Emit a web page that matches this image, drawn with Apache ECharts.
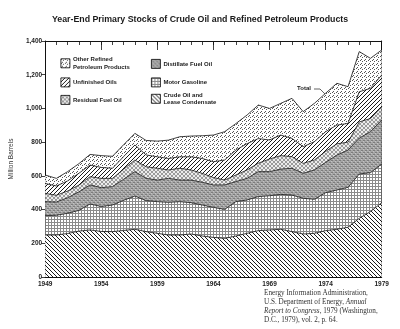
<!DOCTYPE html>
<html>
<head>
<meta charset="utf-8">
<script src="https://cdn.jsdelivr.net/npm/echarts@6/dist/echarts.min.js"></script>
<style>
  html, body { margin: 0; padding: 0; background: #fff; }
  #chart { width: 400px; height: 329px; }
</style>
</head>
<body>
<div id="chart"></div>
<script>
// year-end stocks, million barrels
const years = ['1949', '1950', '1951', '1952', '1953', '1954', '1955', '1956', '1957', '1958',
  '1959', '1960', '1961', '1962', '1963', '1964', '1965', '1966', '1967', '1968',
  '1969', '1970', '1971', '1972', '1973', '1974', '1975', '1976', '1977', '1978', '1979'];
const crudeOil = [249, 249, 258, 272, 279, 270, 269, 276, 283, 269, 259, 249, 249, 255, 243, 235,
  229, 243, 259, 275, 279, 283, 269, 255, 259, 275, 283, 295, 348, 388, 441];
const motorGasoline = [115, 117, 120, 123, 154, 148, 158, 179, 197, 184, 188, 194, 198, 186, 184, 178,
  172, 204, 198, 202, 203, 207, 217, 212, 202, 225, 233, 237, 263, 231, 229];
const distillate = [83, 79, 92, 110, 113, 112, 109, 125, 145, 132, 128, 142, 128, 134, 135, 133,
  145, 119, 128, 148, 143, 150, 159, 148, 174, 180, 207, 221, 213, 243, 261];
const residual = [49, 40, 40, 40, 49, 55, 49, 60, 69, 69, 70, 50, 70, 60, 53, 44,
  29, 39, 50, 50, 75, 80, 69, 59, 59, 65, 67, 47, 96, 78, 79];
const unfinished = [59, 55, 60, 70, 69, 65, 60, 75, 89, 70, 68, 68, 68, 78, 88, 94,
  119, 148, 156, 146, 113, 122, 108, 99, 109, 117, 111, 111, 179, 179, 188];
const otherRefined = [50, 45, 55, 57, 63, 70, 71, 70, 69, 86, 93, 109, 119, 123, 135, 158,
  168, 157, 170, 199, 187, 188, 238, 208, 227, 228, 248, 218, 238, 178, 149];
const yTicks = [0, 200, 400, 600, 800, 1000, 1200, 1400];

const FONT = 'Liberation Sans';

// little canvas tiles used as fill patterns
const makePattern = (size, draw, bg) => {
  const c = document.createElement('canvas');
  c.width = size;
  c.height = size;
  const ctx = c.getContext('2d');
  ctx.fillStyle = bg || '#fff';
  ctx.fillRect(0, 0, size, size);
  draw(ctx, size);
  return { image: c, repeat: 'repeat' };
};
const diag = (dir) => (ctx, s) => {
  ctx.strokeStyle = '#000';
  ctx.lineWidth = 0.9;
  ctx.beginPath();
  [-s, 0, s].forEach((k) => {
    if (dir > 0) { ctx.moveTo(k, s); ctx.lineTo(k + s, 0); } else { ctx.moveTo(k, 0); ctx.lineTo(k + s, s); }
  });
  ctx.stroke();
};
const dots = (pts, color) => (ctx) => {
  ctx.fillStyle = color;
  pts.forEach((p) => ctx.fillRect(p[0], p[1], 1, 1));
};

const patterns = {
  crude: makePattern(4, diag(-1)),
  gasoline: makePattern(3, (ctx) => {
    ctx.fillStyle = '#8a8a8a';
    ctx.fillRect(0, 0, 3, 1);
    ctx.fillRect(0, 0, 1, 3);
  }),
  distillate: makePattern(4, (ctx) => {
    dots([[0, 0], [2, 2], [3, 0], [1, 2]], '#7c7c7c')(ctx);
    dots([[1, 3], [3, 1]], '#c4c4c4')(ctx);
  }, '#a6a6a6'),
  residual: makePattern(4, dots([[0, 0], [1, 1], [2, 2], [3, 3], [3, 0], [2, 1], [1, 2], [0, 3]], '#9a9a9a'), '#ececec'),
  unfinished: makePattern(4, diag(1)),
  other: makePattern(4, dots([[0, 0], [2, 1], [1, 3]], '#555')),
};

const layers = [
  { name: 'Crude Oil and Lease Condensate', label: 'Crude Oil and\nLease Condensate', data: crudeOil, fill: patterns.crude },
  { name: 'Motor Gasoline', label: 'Motor Gasoline', data: motorGasoline, fill: patterns.gasoline },
  { name: 'Distillate Fuel Oil', label: 'Distillate Fuel Oil', data: distillate, fill: patterns.distillate },
  { name: 'Residual Fuel Oil', label: 'Residual Fuel Oil', data: residual, fill: patterns.residual },
  { name: 'Unfinished Oils', label: 'Unfinished Oils', data: unfinished, fill: patterns.unfinished },
  { name: 'Other Refined Petroleum Products', label: 'Other Refined\nPetroleum Products', data: otherRefined, fill: patterns.other },
];

// legend placement: [layer index, left, top]
const legendSpots = [
  [5, 60.5, 56], [4, 60.5, 77.5], [3, 60.5, 95],
  [2, 151, 59], [1, 151, 77.5], [0, 151, 91.5],
];

const series = layers.map((l) => ({
  name: l.name,
  type: 'line',
  stack: 'all',
  data: l.data,
  showSymbol: false,
  symbol: 'none',
  silent: true,
  lineStyle: { color: '#111', width: 0.8 },
  areaStyle: { color: l.fill, opacity: 1 },
  itemStyle: { color: l.fill },
}));

const legend = legendSpots.map((s) => {
  const l = layers[s[0]];
  return {
    left: s[1],
    top: s[2],
    padding: 0,
    itemWidth: 9,
    itemHeight: 9,
    selectedMode: false,
    data: [{
      name: l.name,
      icon: 'rect',
      itemStyle: { color: l.fill, borderColor: '#000', borderWidth: 0.8 },
    }],
    formatter: () => l.label,
    textStyle: { fontFamily: FONT, fontSize: 6, fontWeight: 'bold', color: '#222', lineHeight: 7.3, padding: [0, 0, 0, -2] },
  };
});

const catAxis = (position, tickLen, tickInterval, showLabel, showLine) => ({
  type: 'category',
  position,
  data: years,
  boundaryGap: false,
  axisLine: { show: showLine, lineStyle: { color: '#111', width: 1 } },
  axisTick: { show: true, inside: true, length: tickLen, interval: tickInterval, lineStyle: { color: '#111', width: 0.8 } },
  axisLabel: {
    show: showLabel, interval: 4, margin: 4, color: '#222', fontFamily: FONT, fontSize: 6.5, fontWeight: 'bold',
  },
  splitLine: { show: false },
});

const option = {
  backgroundColor: '#fff',
  animation: false,
  title: [{
    text: 'Year-End Primary Stocks of Crude Oil and Refined Petroleum Products',
    left: 'center',
    top: 10,
    textStyle: { fontFamily: FONT, fontSize: 8.8, fontWeight: 'bold', color: '#1a1a1a' },
  }, {
    text: 'Energy Information Administration,\nU.S. Department of Energy, {i|Annual}\n{i|Report to Congress}, 1979 (Washington,\nD.C., 1979), vol. 2, p. 64.',
    left: 264,
    top: 289,
    padding: 0,
    textStyle: {
      fontFamily: 'Liberation Serif', fontSize: 7.2, fontWeight: 'normal', color: '#333', lineHeight: 9,
      rich: { i: { fontFamily: 'Liberation Serif', fontSize: 7.2, fontStyle: 'italic', color: '#333', lineHeight: 9 } },
    },
  }],
  legend,
  grid: { left: 33.5, right: 18.3, top: 41, bottom: 52, show: false },
  xAxis: [
    catAxis('bottom', 4, 0, false, true),
    catAxis('bottom', 9, 4, true, false),
    catAxis('top', 4, 0, false, true),
    catAxis('top', 9, 4, false, false),
  ],
  yAxis: [{
    type: 'value',
    position: 'left',
    min: yTicks[0],
    max: yTicks[yTicks.length - 1],
    interval: 200,
    name: 'Million Barrels',
    nameLocation: 'middle',
    nameGap: 24,
    nameTextStyle: { fontFamily: FONT, fontSize: 6.5, color: '#333' },
    axisLine: { show: true, lineStyle: { color: '#111', width: 1 } },
    axisTick: { show: true, length: 4, lineStyle: { color: '#111', width: 0.8 } },
    axisLabel: {
      margin: 3, color: '#222', fontFamily: FONT, fontSize: 6.5, fontWeight: 'bold',
      formatter: (v) => v.toLocaleString('en-US'),
    },
    splitLine: { show: false },
  }, {
    type: 'value',
    position: 'right',
    min: yTicks[0],
    max: yTicks[yTicks.length - 1],
    interval: 200,
    axisLine: { show: true, lineStyle: { color: '#111', width: 1 } },
    axisTick: { show: true, inside: true, length: 3, lineStyle: { color: '#111', width: 0.8 } },
    axisLabel: { show: false },
    splitLine: { show: false },
  }],
  graphic: [{
    type: 'text',
    left: 297,
    top: 85,
    style: { text: 'Total', fontFamily: FONT, fontSize: 6, fontWeight: 'bold', fill: '#222' },
  }, {
    type: 'polyline',
    shape: { points: [[314, 89], [320, 89], [326, 95]] },
    style: { stroke: '#222', lineWidth: 0.7, fill: null },
  }],
  series,
};

const chart = echarts.init(document.getElementById('chart'), null, { renderer: 'canvas' });
chart.setOption(option);
</script>
</body>
</html>
